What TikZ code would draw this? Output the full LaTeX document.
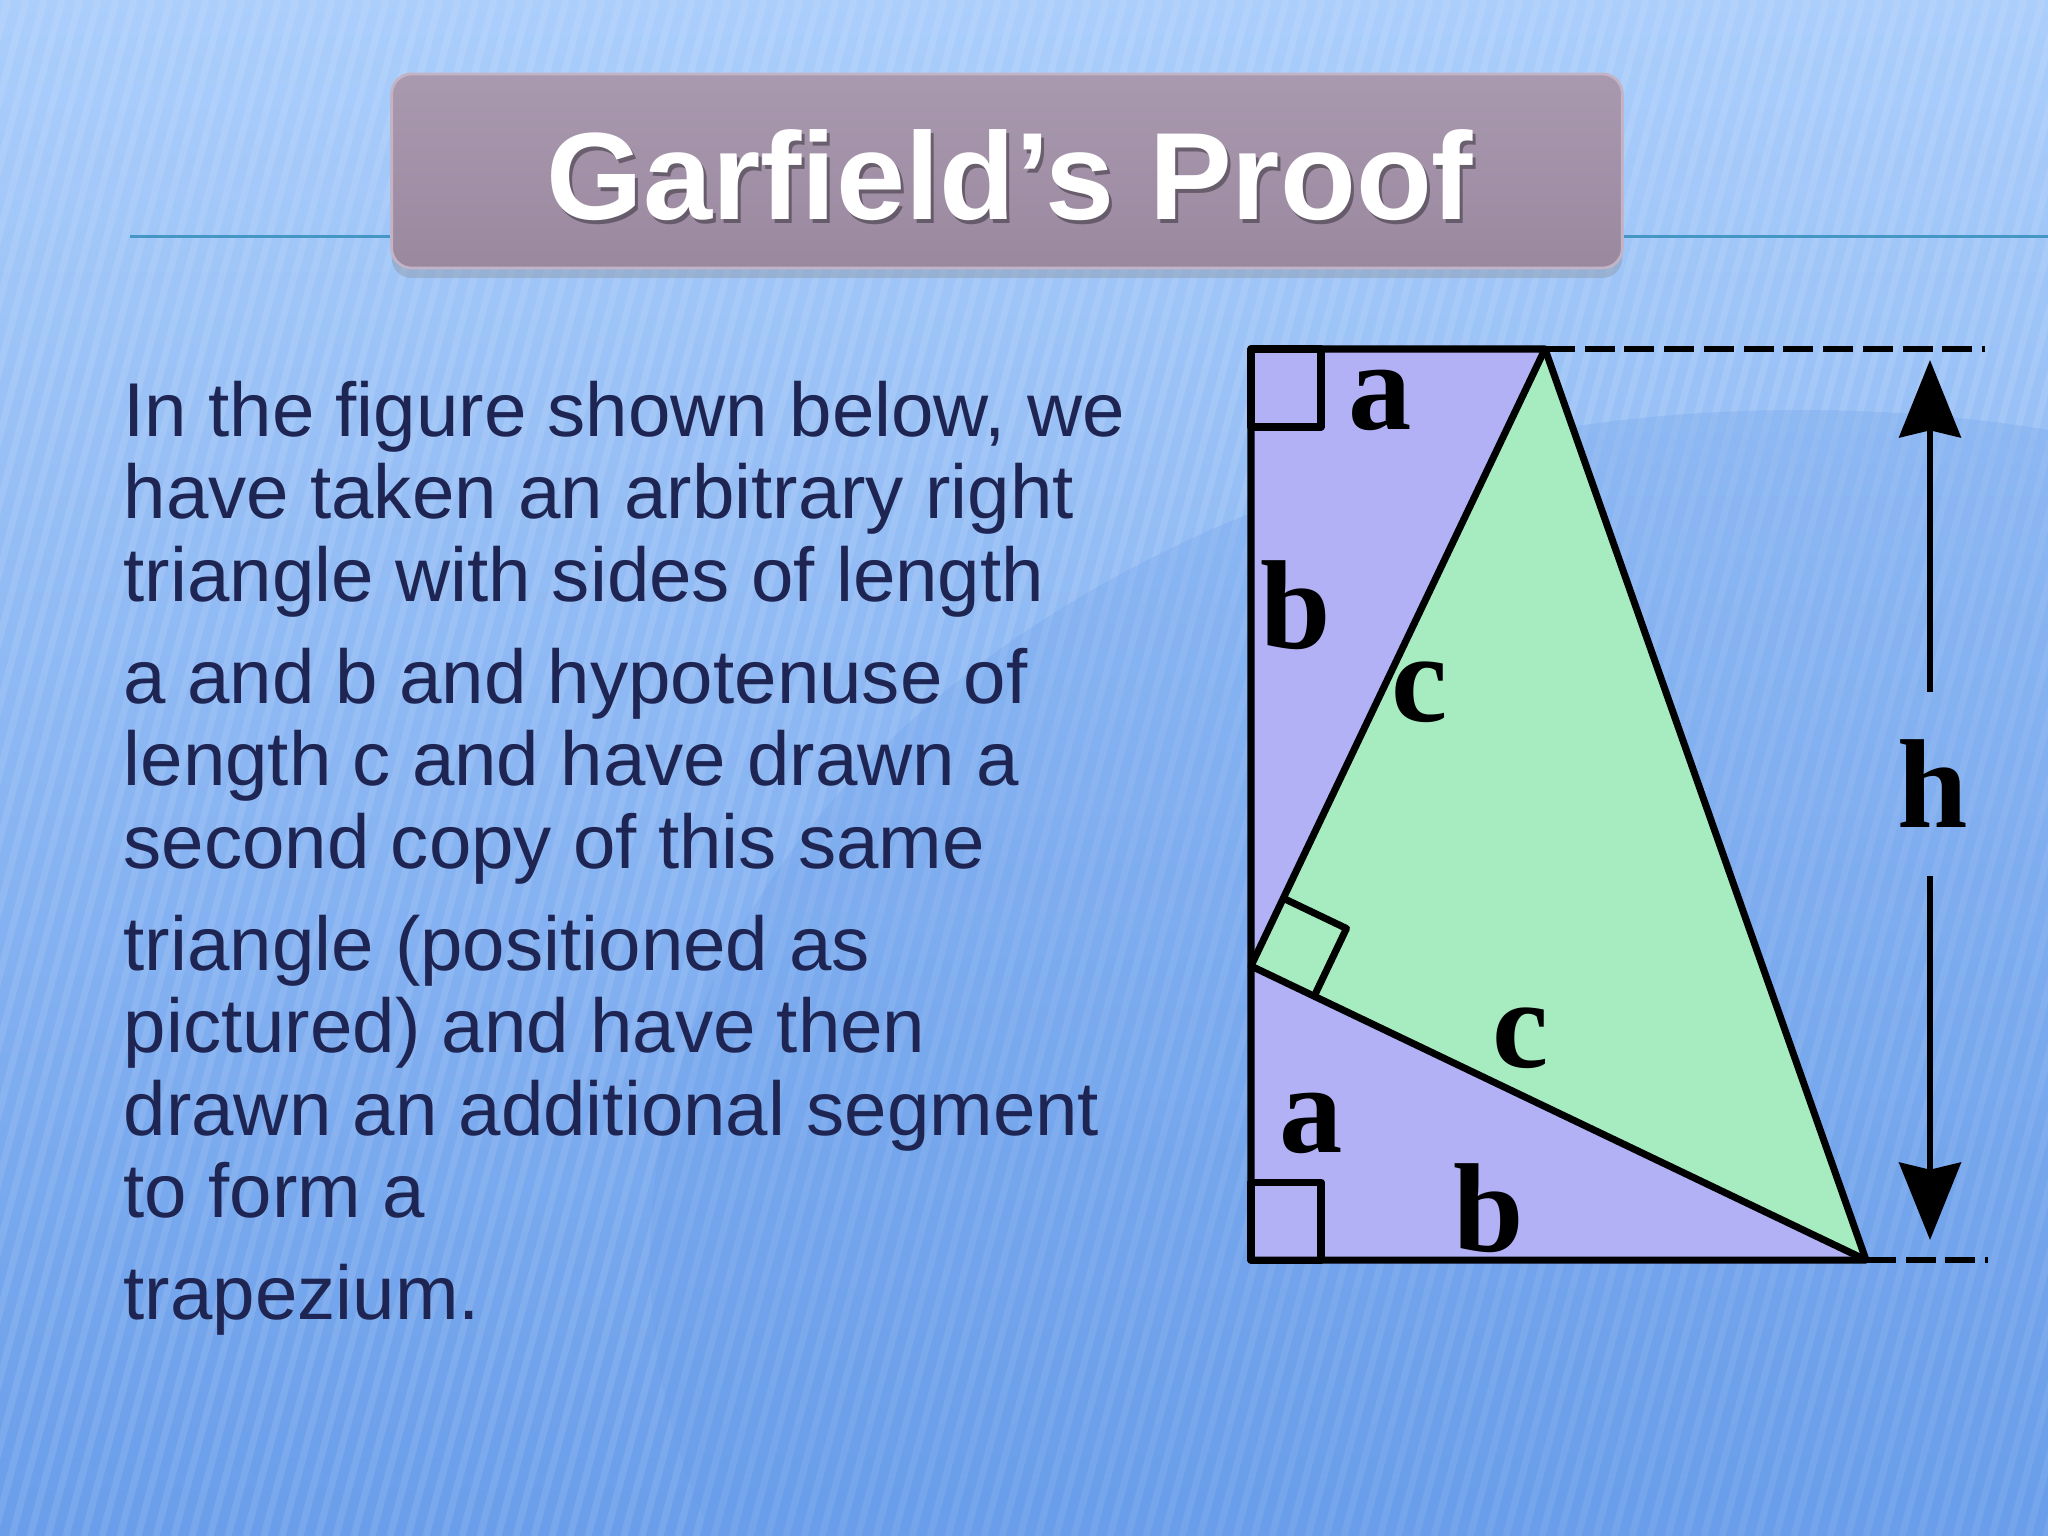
\documentclass[tikz,border=0pt]{standalone}
\usepackage{fontspec}
\setmainfont{Liberation Sans}
\newfontfamily\figfont{Liberation Serif}
\usetikzlibrary{arrows.meta,calc,shadows}

\definecolor{bgtop}{HTML}{ABCEFB}
\definecolor{bgmid}{HTML}{8BB8F3}
\definecolor{bgbot}{HTML}{6A9EEA}
\definecolor{txtnavy}{HTML}{1F2552}
\definecolor{lavender}{HTML}{B3B1F5}
\definecolor{mint}{HTML}{A7ECC1}
\definecolor{titletop}{HTML}{A999AF}
\definecolor{titlemid}{HTML}{86728E}
\definecolor{titlebot}{HTML}{9A889F}
\definecolor{titleedge}{HTML}{C2B4C6}
\definecolor{ruleblue}{HTML}{4696C4}

\begin{document}
\begin{tikzpicture}[x=0.01cm,y=-0.01cm,
	stripe/.style={white,opacity=0.1,line width=0.07cm},
	rule/.style={ruleblue,line width=0.03cm},
	titlebox/.style={rounded corners=0.2cm,top color=titletop,middle color=titlemid,bottom color=titlebot,draw=titleedge,line width=0.8pt,drop shadow={shadow xshift=0pt,shadow yshift=-0.1cm,opacity=0.3}},
	titletext/.style={anchor=base,inner sep=0pt,font=\bfseries\fontsize{35.3pt}{35.3pt}\selectfont},
	bodytext/.style={anchor=base west,inner sep=0pt,text=txtnavy,font=\fontsize{21.7pt}{23.5pt}\selectfont},
	edgeline/.style={line width=2pt,line join=round},
	lbl/.style={inner sep=0pt,font=\figfont\bfseries\fontsize{36pt}{36pt}\selectfont},
	guide/.style={line width=1.8pt,dash pattern=on 8.5pt off 2.8pt},
	harrow/.style={line width=1.7pt,-{Stealth[length=22pt,width=17.5pt,inset=2pt]}}]
	\useasboundingbox (0,0) rectangle (2048,1536);

	% background
	\fill[top color=bgtop,middle color=bgmid,bottom color=bgbot] (0,0) rectangle (2048,1536);
	\begin{scope}
		\clip (0,0) rectangle (2048,1536);
		\foreach \sx in {-420,-402,...,2048}
			\draw[stripe] (\sx,1536) -- ++(410,-1536);
		\fill[bgbot,opacity=0.25] (1800,1260) ellipse [x radius=1150,y radius=850];
	\end{scope}

	% title
	\coordinate (ruleL) at (130,236);
	\coordinate (ruleR) at (2048,236);
	\node[titlebox,minimum width=12.3cm,minimum height=1.94cm] (tbox) at (1007,171) {};
	\draw[rule] (ruleL) -- (tbox.west |- ruleL);
	\draw[rule] (tbox.east |- ruleR) -- (ruleR);
	\node[titletext,text=black,opacity=0.35] (titleshade) at (1013,223) {Garfield’s Proof};
	\node[titletext,text=white] (title) at (1010,219) {Garfield’s Proof};

	% text
	\foreach \yy/\ln [count=\i] in {
		436/{In the figure shown below, we},
		518/{have taken an arbitrary right},
		601/{triangle with sides of length},
		703/{a and b and hypotenuse of},
		785/{length c and have drawn a},
		868/{second copy of this same},
		970/{triangle (positioned as},
		1052/{pictured) and have then},
		1135/{drawn an additional segment},
		1217/{to form a},
		1319/{trapezium.}}
		\node[bodytext] (line\i) at (123,\yy) {\ln};

	% trapezium
	\coordinate (tl) at (1251,349);
	\coordinate (tv) at (1545,349);
	\coordinate (mv) at (1251,966);
	\coordinate (bl) at (1251,1260);
	\coordinate (bv) at (1866,1260);
	\coordinate (topend) at (1985,349);
	\coordinate (botend) at (1988,1260);

	\fill[lavender] (tl) -- (tv) -- (mv) -- cycle;
	\fill[lavender] (mv) -- (bv) -- (bl) -- cycle;
	\fill[mint] (tv) -- (bv) -- (mv) -- cycle;

	\coordinate (sq1) at ($(mv)!0.75cm!(tv)$);
	\coordinate (sq2) at ($(mv)!0.7cm!(bv)$);
	\draw[edgeline] (tl) rectangle ++(70,78);
	\draw[edgeline] (bl) rectangle ++(70,-78);
	\draw[edgeline] (sq1) -- ($(sq1)+(sq2)-(mv)$) -- (sq2);

	\draw[guide] (tv) -- (topend);
	\draw[guide] (bv) -- (botend);

	\draw[edgeline] (tl) -- (tv) -- (bv) -- (bl) -- cycle;
	\draw[edgeline] (tv) -- (mv) -- (bv);

	\node[lbl] (la1) at (1380,400) {a};
	\node[lbl] (lb1) at (1296,605) {b};
	\node[lbl] (lc1) at (1420,692) {c};
	\node[lbl] (lc2) at (1521,1038) {c};
	\node[lbl] (la2) at (1311,1123) {a};
	\node[lbl] (lb2) at (1489,1208) {b};

	% height
	\coordinate (htop) at (1930,360);
	\coordinate (hbot) at (1930,1240);
	\node[lbl,inner ysep=0.47cm] (hlab) at (1933,784) {h};
	\draw[harrow] (hlab.north -| htop) -- (htop);
	\draw[harrow] (hlab.south -| hbot) -- (hbot);
\end{tikzpicture}
\end{document}
